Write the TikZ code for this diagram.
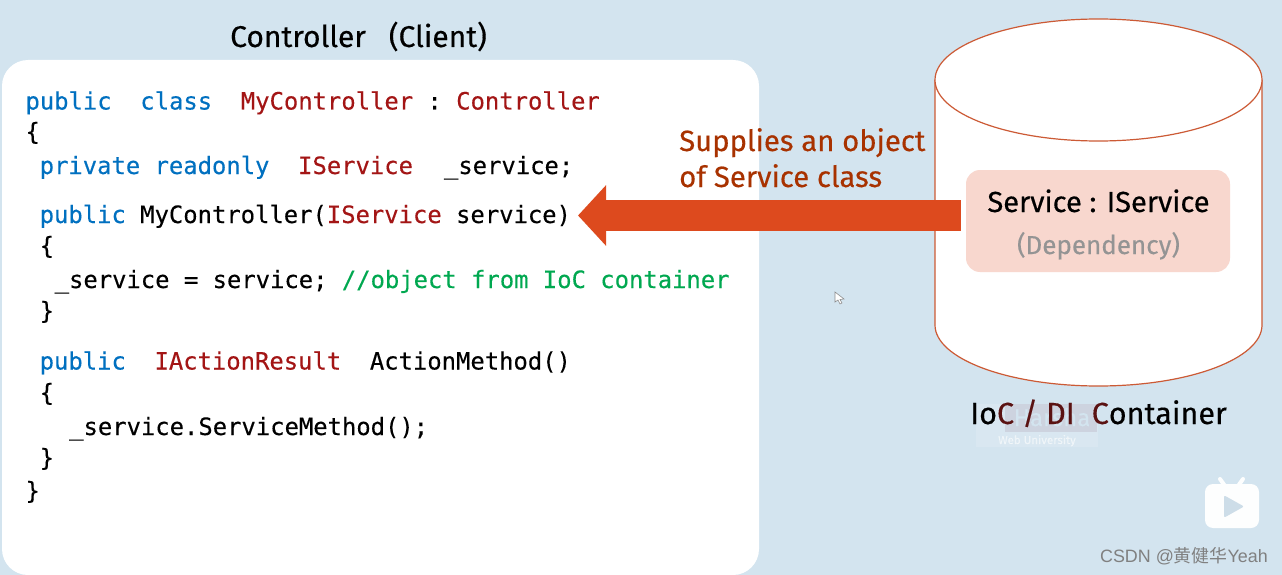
\documentclass[tikz,border=0pt]{standalone}
\usepackage{fontspec}
\setmainfont[FakeBold=0.35]{Fira Sans}
\setmonofont[FakeBold=0.25]{DejaVu Sans Mono}
\newfontfamily\cjkfont{Noto Sans CJK SC}
\newfontfamily\csdnfont{Liberation Sans}
\usetikzlibrary{arrows.meta}
\definecolor{bgblue}{HTML}{D3E4EF}
\definecolor{kwblue}{HTML}{0070C0}
\definecolor{tymaroon}{HTML}{A31515}
\definecolor{cmgreen}{HTML}{00A850}
\definecolor{arroworange}{HTML}{DD4A1E}
\definecolor{labelred}{HTML}{A83200}
\definecolor{cylline}{HTML}{CC5A35}
\definecolor{svcfill}{HTML}{F8D7CE}
\definecolor{wmred}{HTML}{5A1212}
\definecolor{wmband}{HTML}{CDD3DF}
\tikzset{
  codeline/.style={anchor=base west,inner sep=0pt,font=\ttfamily\fontsize{23.85}{24}\selectfont,text=black},
  label/.style={anchor=base west,inner sep=0pt,font=\fontsize{30}{32}\selectfont,text=black},
  redlabel/.style={anchor=base west,inner sep=0pt,font=\fontsize{29.3}{32}\selectfont,text=labelred},
  cyl/.style={draw=cylline,line width=1.2pt},
}
\newcommand{\kw}[1]{\textcolor{kwblue}{#1}}
\newcommand{\ty}[1]{\textcolor{tymaroon}{#1}}
\newcommand{\cm}[1]{\textcolor{cmgreen}{#1}}
\begin{document}
\begin{tikzpicture}[x=1pt,y=-1pt]
\useasboundingbox (0,0) rectangle (1282,575);
\fill[bgblue] (0,0) rectangle (1282,575);
% code panel
\fill[white,rounded corners=26pt] (2,60) rectangle (759,575);
% cylinder
\fill[white] (935,80) rectangle (1262,325);
\fill[white] (1098.5,325) ellipse [x radius=163.5pt,y radius=61pt];
\draw[cyl] (935,80) -- (935,325) .. controls (935,358.7) and (1008,386) .. (1098.5,386) .. controls (1189,386) and (1262,358.7) .. (1262,325) -- (1262,80);
\draw[cyl,fill=white] (1098.5,80) ellipse [x radius=163.5pt,y radius=61pt];
\node[fill=svcfill,rounded corners=14pt,minimum width=264pt,minimum height=102pt,inner sep=0pt] (svc) at (1098,221) {};
\node[anchor=base,inner sep=0pt,font=\fontsize{29}{30}\selectfont] (svcname) at (1098.5,212) {Service : IService};
\node[anchor=base,inner sep=0pt,font=\fontsize{26}{30}\selectfont,text=black!42] (svcdep) at (1098.5,254) {(Dependency)};
% watermark
\fill[white,opacity=.14] (976,404) rectangle (1098,447);
\fill[wmband] (1005,404) rectangle (1097,432);
\node[anchor=base,inner sep=0pt,font=\fontsize{24}{26}\selectfont,text=bgblue] (wm1) at (1052,426) {Harsha};
\node[anchor=base,inner sep=0pt,font=\fontsize{11.5}{12}\selectfont,text=white,opacity=.55] (wm) at (1037,444) {Web University};
% titles
\node[label] (ctitle) at (230,47) {Controller\hspace{23pt}(Client)};
\node[label,font=\fontsize{30.5}{32}\selectfont] (ioc) at (970,424) {Io\textcolor{wmred}{C / DI}\hspace{17pt}\textcolor{wmred}{C}ontainer};
% code
\node[codeline] (l1) at (25.3,109.5) {\kw{public}\hspace{28.7pt}\kw{class}\hspace{28.7pt}\ty{MyController} : \ty{Controller}};
\node[codeline] (l2) at (25.3,140) {\{};
\node[codeline] (l3) at (39.5,174) {\kw{private readonly}\hspace{28.7pt}\ty{IService}\hspace{31pt}\_service;};
\node[codeline] (l4) at (39.5,223) {\kw{public} MyController(\ty{IService} service)};
\node[codeline] (l5) at (39.5,254) {\{};
\node[codeline] (l6) at (54.5,288) {\_service = service; \cm{//object from IoC container}};
\node[codeline] (l7) at (39.5,319) {\}};
\node[codeline] (l8) at (39.5,369.5) {\kw{public}\hspace{28.7pt}\ty{IActionResult}\hspace{28.7pt}ActionMethod()};
\node[codeline] (l9) at (39.5,401) {\{};
\node[codeline] (l10) at (69,435) {\_service.ServiceMethod();};
\node[codeline] (l11) at (39.5,466) {\}};
\node[codeline] (l12) at (25.3,499) {\}};
% arrow
\coordinate (arrowstart) at (960.5,215.5);
\coordinate (arrowend) at (578,215.5);
\draw[arroworange,line width=31pt,-{Triangle[length=28pt,width=59pt,sep=0pt]}] (arrowstart) -- (arrowend);
\node[redlabel] (sup1) at (679,151) {Supplies an object};
\node[redlabel] (sup2) at (679,187) {of Service class};
% mouse cursor
\draw[black!45,fill=white,line width=0.6pt] (835,292) -- (835,302) -- (838,300) -- (840,304) -- (842,303) -- (840,299.5) -- (844,299) -- cycle;
% player icon
\draw[white!96!bgblue,line width=4pt,line cap=round] (1220,479) -- (1225,486);
\draw[white!96!bgblue,line width=4pt,line cap=round] (1243,479) -- (1238,486);
\fill[white!96!bgblue,rounded corners=8pt] (1205,484) rectangle (1259,528);
\fill[bgblue!85!black!20!bgblue,draw=bgblue!85!black!20!bgblue,line width=2pt,line join=round] (1225,497) -- (1225,516) -- (1242,506.5) -- cycle;
\node[anchor=base east,inner sep=0pt,font=\fontsize{17.9}{18}\selectfont,text=black!50] (csdn) at (1268,562) {\csdnfont CSDN @{\cjkfont 黄健华}Yeah};
\end{tikzpicture}
\end{document}
